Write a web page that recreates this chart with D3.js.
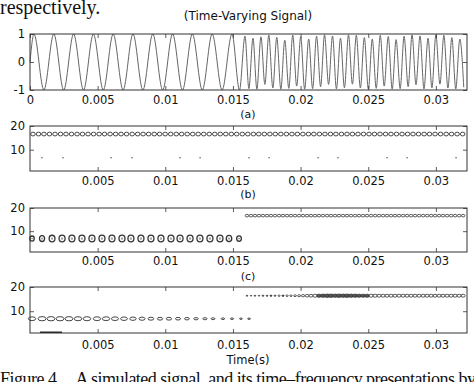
<!DOCTYPE html>
<html><head><meta charset="utf-8">
<script src="https://cdn.jsdelivr.net/npm/d3@7"></script>
<style>body{margin:0;background:#fff}svg{display:block}</style>
</head><body>
<svg id="chart" width="474" height="382"></svg>
<script>
// ---------------- DATA ----------------
const xTicksSignal = [0, 0.005, 0.01, 0.015, 0.02, 0.025, 0.03];
const xTicksTF = [0.005, 0.01, 0.015, 0.02, 0.025, 0.03];
const yTicksSignal = [-1, 0, 1];
const yTicksFreq = [10, 20];

// time-varying signal: extrema
const sigTime = [0, 0.000296, 0.001027, 0.001759, 0.002491, 0.003222, 0.003954, 0.004686, 0.005418, 0.006149,
  0.006881, 0.007613, 0.008344, 0.009076, 0.009808, 0.010540, 0.011271, 0.012003, 0.012735, 0.013467,
  0.014198, 0.014930, 0.015484,
  0.01589, 0.01618, 0.01648, 0.01677, 0.01707, 0.01736, 0.01765, 0.01795, 0.01824, 0.01854,
  0.01883, 0.01913, 0.01942, 0.01971, 0.02001, 0.02030, 0.02060, 0.02089, 0.02118, 0.02148,
  0.02177, 0.02207, 0.02236, 0.02265, 0.02295, 0.02324, 0.02354, 0.02383, 0.02412, 0.02442,
  0.02471, 0.02501, 0.02530, 0.02559, 0.02589, 0.02618, 0.02648, 0.02677, 0.02706, 0.02736,
  0.02765, 0.02795, 0.02824, 0.02853, 0.02883, 0.02912, 0.02942, 0.02971, 0.03000, 0.03030,
  0.03059, 0.03089, 0.03118, 0.03147, 0.03177, 0.03206];
const sigValue = [0, 1, -1, 1, -1, 1, -1, 1, -1, 1,
  -1, 1, -1, 1, -1, 1, -1, 1, -1, 1,
  -1, 1, -1,
  0.92, -0.95, 0.85, -0.97, 0.9, -0.8, 0.96, -0.93, 0.88, -0.97,
  0.78, -0.94, 0.96, -0.86, 0.9, -0.97, 0.82, -0.95, 0.92, -0.88,
  0.97, -0.8, 0.93, -0.96, 0.85, -0.92, 0.97, -0.79, 0.95, -0.93,
  0.87, -0.97, 0.82, -0.94, 0.95, -0.86, 0.91, -0.97, 0.8, -0.95,
  0.92, -0.88, 0.97, -0.81, 0.93, -0.96, 0.85, -0.92, 0.97, -0.79,
  0.95, -0.93, 0.87, -0.96, 0.82, -0.9];

// panel (b): contour glyphs
const bHighTime = [0.00022, 0.00063, 0.00103, 0.00144, 0.00185, 0.00226, 0.00266, 0.00307, 0.00348, 0.00388,
  0.00429, 0.00470, 0.00511, 0.00551, 0.00592, 0.00633, 0.00673, 0.00714, 0.00755, 0.00796,
  0.00836, 0.00877, 0.00918, 0.00958, 0.00999, 0.01040, 0.01081, 0.01121, 0.01162, 0.01203,
  0.01243, 0.01284, 0.01325, 0.01366, 0.01406, 0.01447, 0.01488, 0.01528, 0.01569, 0.01610,
  0.01651, 0.01691, 0.01732, 0.01773, 0.01813, 0.01854, 0.01895, 0.01936, 0.01976, 0.02017,
  0.02058, 0.02098, 0.02139, 0.02180, 0.02221, 0.02261, 0.02302, 0.02343, 0.02383, 0.02424,
  0.02465, 0.02506, 0.02546, 0.02587, 0.02628, 0.02668, 0.02709, 0.02750, 0.02791, 0.02831,
  0.02872, 0.02913, 0.02953, 0.02994, 0.03035, 0.03076, 0.03116, 0.03157, 0.03198];
const bHighFreq = 16.6;
const bLowTime = [0.00089, 0.00244, 0.00599, 0.00754, 0.01109, 0.01257, 0.01619, 0.01767, 0.02129, 0.02277,
  0.02639, 0.02787, 0.03149];
const bLowFreq = 6.6;

// panel (c)
const cLowTime = [0.00015, 0.00089, 0.00163, 0.00237, 0.00310, 0.00384, 0.00458, 0.00532, 0.00606, 0.00680,
  0.00746, 0.00820, 0.00894, 0.00968, 0.01042, 0.01109, 0.01183, 0.01256, 0.01330, 0.01404,
  0.01471, 0.01545];
const cLowEnergy = [0.55, 0.75, 0.95, 1, 1, 1, 1, 1, 1, 1,
  1, 1, 1, 1, 1, 1, 1, 1, 1, 1,
  0.85, 0.65];
const cLowFreq = 6.8;
const cHighTime = [0.01604, 0.01634, 0.01663, 0.01693, 0.01722, 0.01752, 0.01781, 0.01811, 0.01841, 0.01870,
  0.01900, 0.01929, 0.01959, 0.01989, 0.02018, 0.02048, 0.02077, 0.02107, 0.02136, 0.02166,
  0.02196, 0.02225, 0.02255, 0.02284, 0.02314, 0.02343, 0.02373, 0.02403, 0.02432, 0.02462,
  0.02491, 0.02521, 0.02551, 0.02580, 0.02610, 0.02639, 0.02669, 0.02698, 0.02728, 0.02758,
  0.02787, 0.02817, 0.02846, 0.02876, 0.02906, 0.02935, 0.02965, 0.02994, 0.03024, 0.03053,
  0.03083, 0.03113, 0.03142, 0.03172, 0.03201];
const cHighFreq = 16.7;

// panel (d)
const dLowTime = [0.00015, 0.00089, 0.00155, 0.00222, 0.00288, 0.00355, 0.00421, 0.00495, 0.00562, 0.00628,
  0.00695, 0.00761, 0.00828, 0.00894, 0.00961, 0.01027, 0.01094, 0.01160, 0.01227, 0.01293,
  0.01353, 0.01426, 0.01493, 0.01559, 0.01619];
const dLowEnergy = [0.9, 1, 1, 1, 1, 0.95, 0.95, 0.9, 0.9, 0.85,
  0.8, 0.75, 0.7, 0.65, 0.6, 0.6, 0.55, 0.5, 0.45, 0.4,
  0.35, 0.3, 0.25, 0.2, 0.2];
const dLowFreq = 6.9;
const dHighTime = cHighTime;
const dHighEnergy = [0.15, 0.1, 0.15, 0.12, 0.2, 0.18, 0.25, 0.2, 0.3, 0.28,
  0.35, 0.35, 0.45, 0.5, 0.6, 0.7, 0.75, 0.85, 0.9, 0.95,
  1, 1, 0.95, 1, 0.95, 1, 0.95, 0.95, 0.9, 0.9,
  0.9, 0.85, 0.85, 0.8, 0.8, 0.8, 0.8, 0.8, 0.8, 0.8,
  0.8, 0.8, 0.8, 0.8, 0.8, 0.8, 0.8, 0.8, 0.8, 0.8,
  0.8, 0.8, 0.8, 0.8, 0.8];
const dHighFreq = 16.4;
const dBaseLine = [0.00074, 0.00237]; // short low-frequency trace at bottom
const dBaseFreq = 1.3;

// ---------------- DRAW ----------------
const svg = d3.select('#chart');
const FONT = '"DejaVu Sans", Arial, sans-serif';
svg.append('rect').attr('width', 474).attr('height', 382).attr('fill', '#fff');

const x = d3.scaleLinear().domain([0, 0.0323]).range([30, 467]);

// layout
const panels = {
  a: {top: 34, bottom: 90, pad: 6, label: '(a)', labelY: 118},
  b: {top: 126, bottom: 171, pad: 5.5, label: '(b)', labelY: 198},
  c: {top: 208, bottom: 252, pad: 5, label: '(c)', labelY: 280},
  d: {top: 287, bottom: 333, pad: 8, label: null, labelY: 0}
};

function frame(p, y, xt, yt) {
  const g = svg.append('g');
  const fmt = d => String(d);
  const style = sel => {
    sel.select('.domain').remove();
    sel.selectAll('.tick line').attr('stroke', '#333').attr('stroke-width', 0.8);
    sel.selectAll('text').attr('font-family', FONT).attr('font-size', 11.5).attr('fill', '#111');
  };
  g.append('g').attr('transform', `translate(0,${p.bottom})`)
    .call(d3.axisBottom(x).tickValues(xt).tickSize(-4).tickPadding(p.pad).tickFormat(fmt)).call(style);
  g.append('g').attr('transform', `translate(0,${p.top})`)
    .call(d3.axisTop(x).tickValues(xt).tickSize(-4).tickFormat('')).call(style);
  g.append('g').attr('transform', `translate(${x.range()[0]},0)`)
    .call(d3.axisLeft(y).tickValues(yt).tickSize(-4).tickPadding(5).tickFormat(fmt)).call(style);
  g.append('g').attr('transform', `translate(${x.range()[1]},0)`)
    .call(d3.axisRight(y).tickValues(yt).tickSize(-4).tickFormat('')).call(style);
  g.append('rect').attr('x', x.range()[0]).attr('y', p.top)
    .attr('width', x.range()[1] - x.range()[0]).attr('height', p.bottom - p.top)
    .attr('fill', 'none').attr('stroke', '#333').attr('stroke-width', 1);
  if (p.label) {
    svg.append('text').attr('x', 248).attr('y', p.labelY).attr('text-anchor', 'middle')
      .attr('font-family', FONT).attr('font-size', 11).attr('fill', '#111').text(p.label);
  }
}

// panel (a)
const yA = d3.scaleLinear().domain([-1, 1]).range([panels.a.bottom, panels.a.top]);
const sig = sigTime.map((t, i) => ({t, v: sigValue[i]}));
svg.append('path').datum(sig)
  .attr('d', d3.line().x(d => x(d.t)).y(d => yA(d.v)).curve(d3.curveMonotoneX))
  .attr('fill', 'none').attr('stroke', '#666').attr('stroke-width', 1);
frame(panels.a, yA, xTicksSignal, yTicksSignal);
svg.append('text').attr('x', 248).attr('y', 20).attr('text-anchor', 'middle')
  .attr('font-family', FONT).attr('font-size', 12).attr('fill', '#111').text('(Time-Varying Signal)');

// helper to draw glyph rows
function glyphs(times, freq, energy, y, rx, ry, sw, stroke, fill) {
  const g = svg.append('g');
  g.selectAll('ellipse').data(times.map((t, i) => ({t, e: energy ? energy[i] : 1})))
    .join('ellipse')
    .attr('cx', d => x(d.t)).attr('cy', y(freq))
    .attr('rx', d => rx(d.e)).attr('ry', d => ry(d.e))
    .attr('fill', d => fill(d.e)).attr('stroke', stroke).attr('stroke-width', sw);
  return g;
}

// panel (b)
const yB = d3.scaleLinear().domain([1, 20]).range([panels.b.bottom, panels.b.top]);
glyphs(bHighTime, bHighFreq, null, yB, () => 2.3, () => 1.9, 0.9, '#333', () => 'none');
svg.append('g').selectAll('circle').data(bLowTime).join('circle')
  .attr('cx', d => x(d)).attr('cy', yB(bLowFreq)).attr('r', 0.7).attr('fill', '#444');
frame(panels.b, yB, xTicksTF, yTicksFreq);

// panel (c)
const yC = d3.scaleLinear().domain([1, 20]).range([panels.c.bottom, panels.c.top]);
glyphs(cLowTime, cLowFreq, cLowEnergy, yC, e => 1.2 + 1.8 * e, e => 1.6 + 1.8 * e, 1.3, '#333', () => 'none');
glyphs(cLowTime, cLowFreq, cLowEnergy, yC, e => 0.6 * e, e => 1.0 * e, 0.8, '#777', () => 'none');
glyphs(cHighTime, cHighFreq, null, yC, () => 1.8, () => 1.3, 0.8, '#333', () => 'none');
frame(panels.c, yC, xTicksTF, yTicksFreq);

// panel (d)
const yD = d3.scaleLinear().domain([1, 20]).range([panels.d.bottom, panels.d.top]);
glyphs(dLowTime, dLowFreq, dLowEnergy, yD, e => 0.8 + 3.2 * e, e => 0.3 + 1.8 * e, 0.9, '#333', () => 'none');
glyphs(dHighTime, dHighFreq, dHighEnergy, yD, e => 0.4 + 2.2 * e, e => 0.3 + 1.4 * e, 0.8, '#333',
  e => e >= 0.9 ? '#555' : (e < 0.3 ? '#333' : 'none'));
svg.append('line').attr('x1', x(dBaseLine[0])).attr('x2', x(dBaseLine[1]))
  .attr('y1', yD(dBaseFreq)).attr('y2', yD(dBaseFreq)).attr('stroke', '#222').attr('stroke-width', 1.5);
frame(panels.d, yD, xTicksTF, yTicksFreq);
svg.append('text').attr('x', 248).attr('y', 364).attr('text-anchor', 'middle')
  .attr('font-family', FONT).attr('font-size', 11.5).attr('fill', '#111').text('Time(s)');

// surrounding document text
svg.append('text').attr('x', 0).attr('y', 14)
  .attr('font-family', '"Liberation Serif", "Times New Roman", serif').attr('font-size', 20).attr('fill', '#111')
  .text('respectively.');
svg.append('text').attr('x', 0).attr('y', 385)
  .attr('font-family', '"Liberation Serif", "Times New Roman", serif').attr('font-size', 18).attr('fill', '#111')
  .style('white-space', 'pre').attr('xml:space', 'preserve')
  .attr('textLength', 476).attr('lengthAdjust', 'spacing')
  .text('Figure 4.    A simulated signal, and its time–frequency presentations by');
</script>
</body></html>
